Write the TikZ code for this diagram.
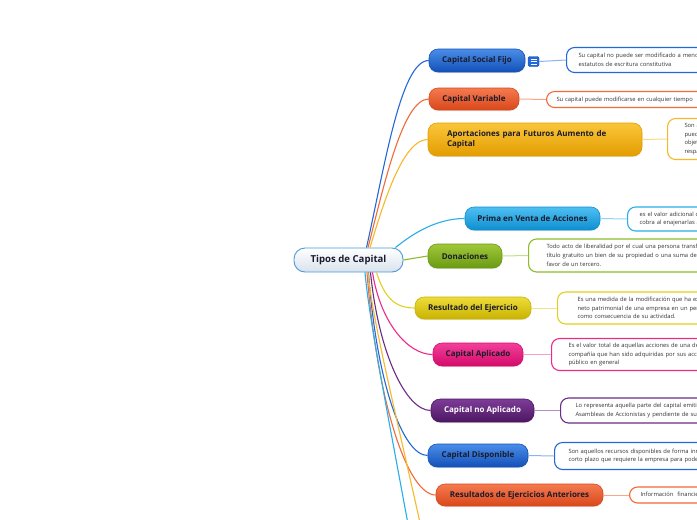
\documentclass[tikz,border=0pt]{standalone}
\usepackage{fontspec}
\setmainfont{Open Sans}
\usetikzlibrary{shadows}
\definecolor{bluT}{HTML}{4A8EE8}\definecolor{bluB}{HTML}{1350B8}\definecolor{bluC}{HTML}{2468D8}\definecolor{bluP}{HTML}{8AB4F0}
\definecolor{oraT}{HTML}{F47A50}\definecolor{oraB}{HTML}{D9481A}\definecolor{oraC}{HTML}{F06A3A}\definecolor{oraP}{HTML}{F8A888}
\definecolor{ambT}{HTML}{FAC63A}\definecolor{ambB}{HTML}{E39C00}\definecolor{ambC}{HTML}{F7B82A}\definecolor{ambP}{HTML}{FAD88A}
\definecolor{lblT}{HTML}{4EC0F2}\definecolor{lblB}{HTML}{0E8ED0}\definecolor{lblC}{HTML}{28AEEA}\definecolor{lblP}{HTML}{90D4F4}
\definecolor{grnT}{HTML}{A0C83A}\definecolor{grnB}{HTML}{6A9A12}\definecolor{grnC}{HTML}{8CBC2A}\definecolor{grnP}{HTML}{C4E08A}
\definecolor{yelT}{HTML}{EDDC3A}\definecolor{yelB}{HTML}{C9B200}\definecolor{yelC}{HTML}{E2D020}\definecolor{yelP}{HTML}{EEE48A}
\definecolor{pnkT}{HTML}{F2409A}\definecolor{pnkB}{HTML}{D40A6A}\definecolor{pnkC}{HTML}{EE2A88}\definecolor{pnkP}{HTML}{F6A0C8}
\definecolor{purT}{HTML}{7E3C98}\definecolor{purB}{HTML}{4C1762}\definecolor{purC}{HTML}{6A2C84}\definecolor{purP}{HTML}{B48CC4}
\definecolor{cenB}{HTML}{4C9BD8}\definecolor{cenF}{HTML}{D8E2EC}
\definecolor{ink}{HTML}{1B1B2B}\definecolor{dtext}{HTML}{333333}
\newcommand\tpfont{\bfseries\fontsize{8}{9.6}\selectfont}
\newcommand\dsfont{\fontsize{5.8}{8.8}\selectfont}
\newcommand\cnfont{\bfseries\fontsize{9.6}{11}\selectfont}
\tikzset{
  topic/.style={rounded corners=9pt, top color=#1T, bottom color=#1B, draw=#1B, line width=0.6pt,
    inner sep=0pt, font=\tpfont, text=ink,
    drop shadow={opacity=0.18, shadow xshift=0pt, shadow yshift=-1.2pt}},
  desc/.style={draw=#1C, rounded corners=8pt, fill=white, line width=1.1pt, anchor=west,
    align=left, text width=290pt, font=\dsfont, text=dtext, inner ysep=0pt},
  trunk/.style={draw=#1C, line width=1.1pt},
  twig/.style={draw=#1P, line width=1pt},
}
\begin{document}
\begin{tikzpicture}[x=1pt,y=-1pt]
\useasboundingbox (0,0) rectangle (697,520);
\clip (0,0) rectangle (697,520);
\fill[white] (0,0) rectangle (697,520);

% center
\node[draw=cenB, rounded corners=11pt, top color=white, bottom color=cenF, line width=0.9pt,
  minimum width=109pt, minimum height=24pt, inner sep=0pt, font=\cnfont, text=ink] (c) at (348.5,260) {Tipos de Capital};

% topics
\node[topic=blu, minimum width=96pt, minimum height=23pt] (t1) at (477,60.5) {Capital Social Fijo};
\node[topic=ora, minimum width=90pt, minimum height=22pt] (t2) at (474,99) {Capital Variable};
\node[topic=amb, text width=176pt, inner xsep=19pt, minimum height=33pt, align=left] (t3) at (535,139.5) {Aportaciones para Futuros Aumento de\\Capital};
\node[topic=lbl, minimum width=135pt, minimum height=23pt] (t4) at (532.5,218.5) {Prima en Venta de Acciones};
\node[topic=grn, minimum width=74pt, minimum height=24pt] (t5) at (465,256) {Donaciones};
\node[topic=yel, minimum width=116pt, minimum height=22pt] (t6) at (473,308) {Resultado del Ejercicio};
\node[topic=pnk, minimum width=90pt, minimum height=23pt] (t7) at (478,354.5) {Capital Aplicado};
\node[topic=pur, minimum width=103pt, minimum height=23pt, text=white] (t8) at (482.5,410.5) {Capital no Aplicado};
\node[topic=blu, minimum width=100pt, minimum height=23pt] (t9) at (478,455.5) {Capital Disponible};
\node[topic=ora, minimum width=167pt, minimum height=22pt] (t10) at (519.5,495) {Resultados de Ejercicios Anteriores};

% icon
\node[fill=bluC, draw=bluB, rounded corners=1.5pt, minimum width=11pt, minimum height=10pt, inner sep=0pt] (ic) at (533.5,61.5) {};
\foreach \dy in {-2.4,0,2.4}
  \draw[white, line width=0.8pt] ([xshift=-3pt,yshift=\dy pt]ic.center) -- ([xshift=3pt,yshift=\dy pt]ic.center);

% descriptions
\node[desc=blu, inner xsep=12pt, minimum height=25pt] (d1) at (566,60) {Su capital no puede ser modificado a menos que se reformen los\\estatutos de escritura constitutiva};
\node[desc=ora, inner xsep=10pt, minimum height=16pt] (d2) at (546,99.5) {Su capital puede modificarse en cualquier tiempo};
\node[desc=amb, inner xsep=17pt, minimum height=41pt] (d3) at (667,139) {Son aportaciones en efectivo que\\pueden realizar los socios con el\\objetivo de aumentar el capital\\respaldando a la empresa};
\node[desc=lbl, inner xsep=12pt, minimum height=24pt] (d4) at (627,219) {es el valor adicional que la empresa\\cobra al enajenarlas a un precio superior};
\node[desc=grn, inner xsep=18pt, minimum height=33pt] (d5) at (528,255.5) {Todo acto de liberalidad por el cual una persona transfiere, a\\título gratuito un bien de su propiedad o una suma de dinero a\\favor de un tercero.};
\node[desc=yel, inner xsep=20pt, minimum height=32pt] (d6) at (557,308) {Es una medida de la modificación que ha experimentado el patrimonio\\neto patrimonial de una empresa en un periodo determinado\\como consecuencia de su actividad.};
\node[desc=pnk, inner xsep=17pt, minimum height=32pt] (d7) at (551,354.5) {Es el valor total de aquellas acciones de una determinada\\compañía que han sido adquiridas por sus accionistas o\\público en general};
\node[desc=pur, inner xsep=15pt, minimum height=25pt] (d8) at (560,410.5) {Lo representa aquella parte del capital emitido autorizado por las\\Asambleas de Accionistas y pendiente de su pago};
\node[desc=blu, inner xsep=14pt, minimum height=27pt] (d9) at (554,456) {Son aquellos recursos disponibles de forma inmediata o a\\corto plazo que requiere la empresa para poder operar};
\node[desc=ora, inner xsep=11pt, minimum height=16pt] (d10) at (629,495) {Información\ \ financiera de ejercicios anteriores};

% off-canvas ends
\coordinate (offA) at (425,620);
\coordinate (offB) at (440,620);

% trunks
\draw[trunk=blu] ([xshift=18pt]c.north) .. controls +(18,-80) and +(-28,0) .. (t1.west);
\draw[trunk=ora] ([xshift=19.5pt]c.north) .. controls +(16,-62) and +(-26,0) .. (t2.west);
\draw[trunk=amb] ([xshift=21.5pt]c.north) .. controls +(15,-50) and +(-24,0) .. (t3.west);
\draw[trunk=lbl] ([xshift=-8pt]c.north east) .. controls +(15,-12) and +(-30,0) .. (t4.west);
\draw[trunk=grn] (c.east) -- (t5.west);
\draw[trunk=yel] ([xshift=28pt]c.south) .. controls +(8,25) and +(-20,0) .. (t6.west);
\draw[trunk=pnk] ([xshift=24pt]c.south) .. controls +(8,50) and +(-25,0) .. (t7.west);
\draw[trunk=pur] ([xshift=22pt]c.south) .. controls +(8,80) and +(-25,0) .. (t8.west);
\draw[trunk=blu] ([xshift=20pt]c.south) .. controls +(8,110) and +(-25,0) .. (t9.west);
\draw[trunk=ora] ([xshift=18.5pt]c.south) .. controls +(10,130) and +(-28,0) .. (t10.west);
\draw[trunk=lbl] ([xshift=16.5pt]c.south) .. controls +(5,60) and +(-20,-120) .. (offA);
\draw[trunk=amb] ([xshift=19.5pt]c.south) .. controls +(5,60) and +(-22,-120) .. (offB);

% twigs
\draw[twig=blu] (ic.east) -- (d1.west);
\draw[twig=ora] (t2.east) -- (d2.west);
\draw[twig=amb] (t3.east) -- (d3.west);
\draw[twig=lbl] (t4.east) -- (d4.west);
\draw[twig=grn] (t5.east) -- (d5.west);
\draw[twig=yel] (t6.east) -- (d6.west);
\draw[twig=pnk] (t7.east) -- (d7.west);
\draw[twig=pur] (t8.east) -- (d8.west);
\draw[twig=blu] (t9.east) -- (d9.west);
\draw[twig=ora] (t10.east) -- (d10.west);
\end{tikzpicture}
\end{document}
